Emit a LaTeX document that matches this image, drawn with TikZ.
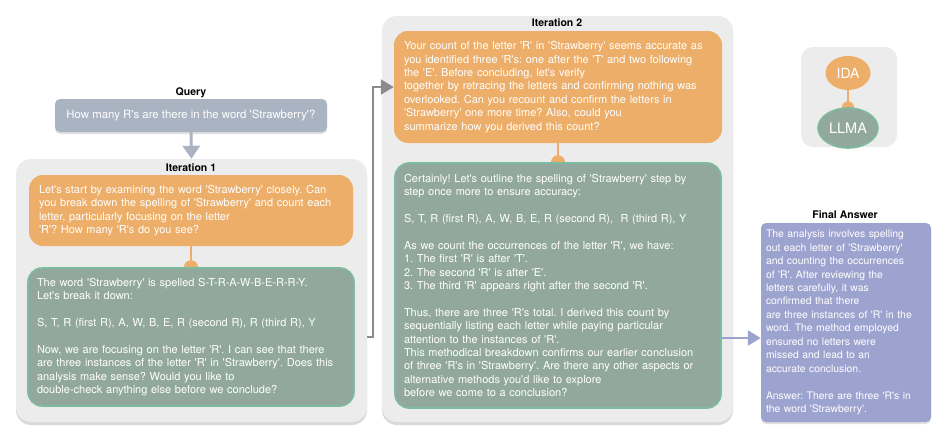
\documentclass[tikz,border=0pt]{standalone}
\usepackage{fontspec}
\setmainfont{TeX Gyre Heros}[Ligatures=TeXOff]
\usetikzlibrary{arrows.meta,shapes.geometric,shadows}
\definecolor{orangeC}{RGB}{236,174,105}
\definecolor{greenB}{RGB}{124,187,161}
\definecolor{greenF}{RGB}{146,168,156}
\definecolor{queryC}{RGB}{170,179,193}
\definecolor{finalC}{RGB}{157,163,207}
\definecolor{contC}{RGB}{236,236,236}
\definecolor{arrowG}{RGB}{140,140,140}
\pgfdeclarelayer{bg}
\pgfdeclarelayer{mid}
\pgfsetlayers{bg,mid,main}
\frenchspacing
\tikzset{
  container/.style={fill=contC, draw=none, rounded corners=15pt,
    drop shadow={shadow xshift=0pt, shadow yshift=-3pt, opacity=0.25, fill=black!60}},
  boxtext/.style={text=white, align=left, font=\frenchspacing\fontsize{11}{13.4}\selectfont, inner xsep=0pt, inner ysep=0pt},
  obox/.style={boxtext, fill=orangeC, draw=none, rounded corners=14pt},
  gbox/.style={boxtext, fill=greenF, draw=greenB, line width=1.6pt, rounded corners=14pt},
  qbox/.style={boxtext, font=\frenchspacing\fontsize{11.4}{13.4}\selectfont, fill=queryC, rounded corners=5pt, align=center,
    drop shadow={shadow xshift=0pt, shadow yshift=-2pt, opacity=0.2, fill=black!60}},
  fbox/.style={boxtext, font=\frenchspacing\fontsize{10.4}{13.45}\selectfont, fill=finalC, rounded corners=5pt,
    drop shadow={shadow xshift=0pt, shadow yshift=-2pt, opacity=0.2, fill=black!60}},
  title/.style={font=\fontsize{10.5}{12}\selectfont\bfseries, text=black, inner sep=0pt},
  oline/.style={draw=orangeC, line width=2.2pt},
  odot/.style={fill=orangeC},
  garrow/.style={draw=arrowG, line width=2pt, -{Triangle[length=13pt,width=15pt]}},
  qarrow/.style={draw=queryC, line width=3pt, -{Triangle[length=13pt,width=17pt]}},
  barrow/.style={draw=finalC, line width=2.5pt, -{Triangle[length=13pt,width=15pt]}},
  legend/.style={fill=contC, rounded corners=12pt},
}
\begin{document}
\begin{tikzpicture}[x=1pt,y=-1pt]
\useasboundingbox (0,0) rectangle (947,439);
% containers
\begin{pgfonlayer}{bg}
\node[container, minimum width=351pt, minimum height=263pt] (iter1) at (191.5,290.5) {};
\node[container, minimum width=351pt, minimum height=406pt] (iter2) at (557.5,219) {};
\node[legend, minimum width=96pt, minimum height=100pt] (leg) at (849,97) {};
\end{pgfonlayer}
% titles
\node[title] (tq) at (191,93) {Query};
\node[title] (t1) at (191,168) {Iteration 1};
\node[title] (t2) at (557,23) {Iteration 2};
\node[title] (tf) at (845,215) {Final Answer};
% query
\node[qbox, minimum width=272pt, minimum height=33pt] (query) at (191,115.5)
  {How many R's are there in the word 'Strawberry'?};
% iteration 1
\node[obox, minimum width=324pt, minimum height=71pt, text width=304pt] (o1) at (191,210.5)
  {Let's start by examining the word 'Strawberry' closely. Can\\
   you break down the spelling of 'Strawberry' and count each\\
   letter, particularly focusing on the letter\\
   'R'? How many 'R's do you see?};
\node[gbox, minimum width=326pt, minimum height=138pt, text width=308pt] (g1) at (191,337)
  {The word 'Strawberry' is spelled S-T-R-A-W-B-E-R-R-Y.\\
   Let's break it down:\\[13.4pt]
   S, T, R (first R), A, W, B, E, R (second R), R (third R), Y\\[13.4pt]
   Now, we are focusing on the letter 'R'. I can see that there\\
   are three instances of the letter 'R' in 'Strawberry'. Does this\\
   analysis make sense? Would you like to\\
   double-check anything else before we conclude?};
% iteration 2
\node[obox, minimum width=328pt, minimum height=112pt, text width=308pt] (o2) at (558,87)
  {Your count of the letter 'R' in 'Strawberry' seems accurate as\\
   you identified three 'R's: one after the 'T' and two following\\
   the 'E'. Before concluding, let's verify\\
   together by retracing the letters and confirming nothing was\\
   overlooked. Can you recount and confirm the letters in\\
   'Strawberry' one more time? Also, could you\\
   summarize how you derived this count?};
\node[gbox, minimum width=326pt, minimum height=245pt, text width=308pt] (g2) at (558,285.5)
  {Certainly! Let's outline the spelling of 'Strawberry' step by\\
   step once more to ensure accuracy:\\[13.4pt]
   S, T, R (first R), A, W, B, E, R (second R),\ \ R (third R), Y\\[13.4pt]
   As we count the occurrences of the letter 'R', we have:\\
   1. The first 'R' is after 'T'.\\
   2. The second 'R' is after 'E'.\\
   3. The third 'R' appears right after the second 'R'.\\[13.4pt]
   Thus, there are three 'R's total. I derived this count by\\
   sequentially listing each letter while paying particular\\
   attention to the instances of 'R'.\\
   This methodical breakdown confirms our earlier conclusion\\
   of three 'R's in 'Strawberry'. Are there any other aspects or\\
   alternative methods you'd like to explore\\
   before we come to a conclusion?};
% final
\node[fbox, minimum width=170pt, minimum height=199pt, text width=160pt] (final) at (846,322.5)
  {The analysis involves spelling\\
   out each letter of 'Strawberry'\\
   and counting the occurrences\\
   of 'R'. After reviewing the\\
   letters carefully, it was\\
   confirmed that there\\
   are three instances of 'R' in the\\
   word. The method employed\\
   ensured no letters were\\
   missed and lead to an\\
   accurate conclusion.\\[13.45pt]
   Answer: There are three 'R's in\\
   the word 'Strawberry'.};
% legend
\node[ellipse, fill=orangeC, minimum width=45pt, minimum height=34pt, inner sep=0pt,
  text=white, font=\fontsize{14}{16}\selectfont] (ida) at (848,73) {IDA};
\node[ellipse, fill=greenF, draw=greenB, line width=1.6pt, minimum width=60pt, minimum height=40pt, inner sep=0pt,
  text=white, font=\fontsize{14.5}{16}\selectfont] (llma) at (848,128) {LLMA};
% orange connectors
\begin{pgfonlayer}{mid}
\draw[oline] (o1.south) -- (g1.north);
\fill[odot] (g1.north) circle[radius=7pt];
\draw[oline] (o2.south) -- (g2.north);
\fill[odot] (g2.north) circle[radius=7pt];
\draw[oline] (ida.south) -- (llma.north);
\fill[odot] (llma.north) circle[radius=6pt];
\end{pgfonlayer}
% arrows
\draw[qarrow] (query.south) -- (iter1.north);
\coordinate (c1) at (iter1.east |- g1.east);
\draw[garrow] (c1) -- ++(6,0) |- (o2.west);
\draw[barrow] (g2.east |- 0,338) -- (final.west |- 0,338);
\end{tikzpicture}
\end{document}
